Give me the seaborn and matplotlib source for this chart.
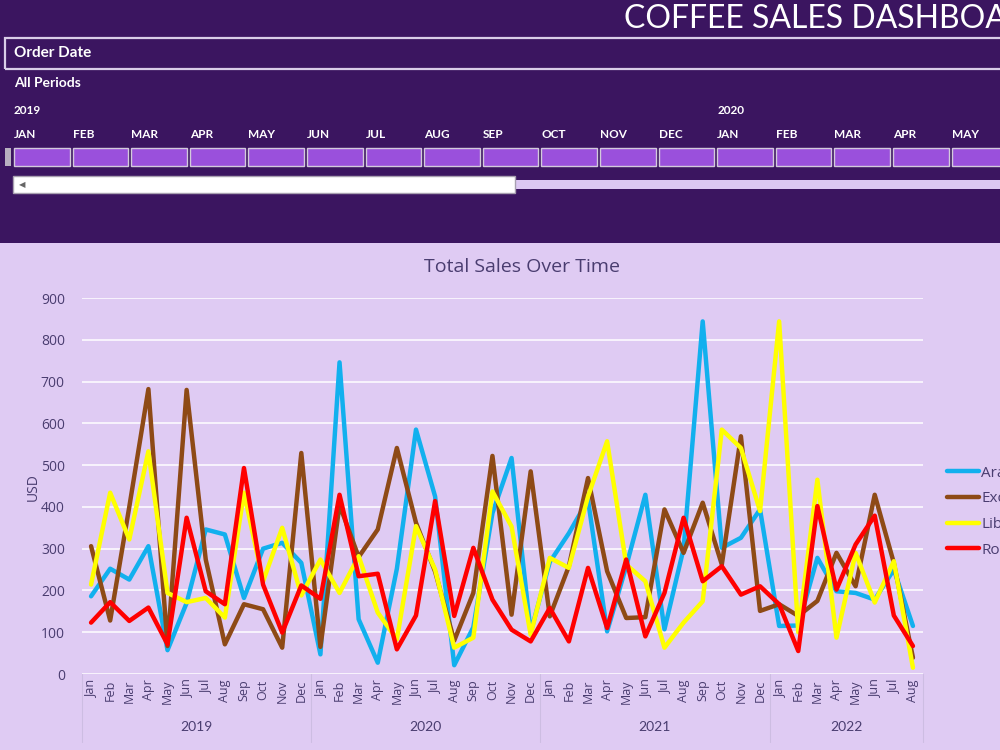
import numpy as np
import pandas as pd
import matplotlib
matplotlib.use('Agg')
import matplotlib.pyplot as plt
import seaborn as sns
from matplotlib.patches import Rectangle

# data: monthly sales, Jan 2019 .. Aug 2022
months = ['Jan', 'Feb', 'Mar', 'Apr', 'May', 'Jun',
          'Jul', 'Aug', 'Sep', 'Oct', 'Nov', 'Dec']
years = ['2019', '2020', '2021', '2022']
month_labels = (months * 4)[:44]

arabica = [186, 252, 226, 306, 57, 170, 346, 334, 182, 300, 314, 266,
           47, 746, 131, 27, 252, 585, 425, 21, 112, 385, 517, 100,
           268, 337, 417, 102, 258, 429, 107, 300, 844, 302, 326, 394,
           115, 116, 278, 198, 194, 178, 250, 115]
excelsa = [306, 128, 400, 682, 67, 680, 274, 71, 167, 155, 63, 529,
           65, 405, 280, 346, 541, 362, 245, 80, 194, 522, 142, 485,
           138, 258, 469, 246, 134, 136, 394, 290, 410, 262, 569, 151,
           167, 139, 175, 290, 210, 429, 266, 39]
liberica = [214, 434, 322, 533, 194, 172, 182, 135, 434, 222, 350, 188,
            274, 194, 282, 147, 83, 354, 250, 63, 87, 437, 353, 94,
            278, 254, 425, 557, 262, 222, 63, 123, 174, 585, 541, 390,
            844, 100, 465, 87, 290, 171, 270, 15]
robusta = [123, 172, 127, 159, 71, 374, 198, 167, 493, 214, 99, 212,
           180, 429, 234, 240, 59, 140, 414, 139, 302, 178, 106, 78,
           158, 78, 254, 110, 274, 90, 194, 374, 222, 258, 190, 210,
           167, 55, 402, 202, 310, 379, 140, 67]

beans = ['Arabica', 'Excelsa', 'Liberica', 'Robusta']
palette = {'Arabica': '#12B0EE', 'Excelsa': '#8E4A16',
           'Liberica': '#FFFF00', 'Robusta': '#FF0000'}

# slicer strip texts
slicer_months = ['JAN', 'FEB', 'MAR', 'APR', 'MAY', 'JUN', 'JUL', 'AUG', 'SEP',
                 'OCT', 'NOV', 'DEC', 'JAN', 'FEB', 'MAR', 'APR', 'MAY']

df = pd.DataFrame({
    'idx': np.tile(np.arange(44), 4),
    'bean': np.repeat(beans, 44),
    'sales': arabica + excelsa + liberica + robusta,
})

sns.set_style('white')
narrow = ['Liberation Sans Narrow', 'Lato', 'DejaVu Sans']
plt.rcParams['font.family'] = ['Open Sans', 'DejaVu Sans']

W, H = 1000, 750
def fx(x):
    return x / W
def fy(y):
    return 1 - y / H

bg = '#DFCBF3'
dark = '#3B1560'
txt = '#4A3D70'

fig = plt.figure(figsize=(10, 7.5), dpi=100)
fig.patch.set_facecolor(bg)

# dark header band
fig.add_artist(Rectangle((0, fy(243)), 1, 243 / H, transform=fig.transFigure,
                         facecolor=dark, edgecolor='none'))
fig.text(fx(624), fy(19), 'COFFEE SALES DASHBOARD', color='white',
         fontsize=23, ha='left', va='center', family=narrow)

# timeline slicer
fig.add_artist(Rectangle((fx(5), fy(69)), fx(1010), 31 / H, transform=fig.transFigure,
                         facecolor='none', edgecolor='#D9CDE8', lw=1.6))
fig.text(fx(14), fy(53), 'Order Date', color='white', fontsize=11,
         fontweight='bold', ha='left', va='center', family=narrow)
fig.text(fx(14), fy(83), 'All Periods', color='white', fontsize=10,
         fontweight='bold', ha='left', va='center', family=narrow)
fig.text(fx(14), fy(110), '2019', color='white', fontsize=8.5,
         fontweight='bold', ha='left', va='center', family=narrow)
fig.text(fx(14 + 12 * 58.6), fy(110), '2020', color='white', fontsize=8.5,
         fontweight='bold', ha='left', va='center', family=narrow)
for i, m in enumerate(slicer_months):
    x0 = 14 + i * 58.6
    fig.text(fx(x0), fy(135), m, color='white', fontsize=8.5,
             fontweight='bold', ha='left', va='center', family=narrow)
    fig.add_artist(Rectangle((fx(x0), fy(166)), 55.5 / W, 18 / H,
                             transform=fig.transFigure, facecolor='#9A50DC',
                             edgecolor='#D3CADC', lw=1))
fig.add_artist(Rectangle((fx(5), fy(166)), 6 / W, 18 / H, transform=fig.transFigure,
                         facecolor='#B8B0C0', edgecolor='none'))
fig.add_artist(Rectangle((fx(515), fy(189)), 490 / W, 9 / H, transform=fig.transFigure,
                         facecolor='#DCC8F2', edgecolor='none'))
fig.add_artist(Rectangle((fx(13), fy(193)), 502 / W, 17 / H, transform=fig.transFigure,
                         facecolor='white', edgecolor='#A8A0B0', lw=1))
fig.text(fx(22), fy(184.5), '\u25c0', color='#666666', fontsize=6,
         ha='center', va='center', family=['DejaVu Sans'])

# line chart
ax = fig.add_axes([fx(81.5), fy(674), 841 / W, (674 - 298) / H])
ax.set_facecolor('none')
sns.lineplot(data=df, x='idx', y='sales', hue='bean', hue_order=beans,
             palette=palette, linewidth=3.2, ax=ax)
ax.set_xlim(-0.5, 43.5)
ax.set_ylim(0, 900)
ax.set_yticks(range(0, 901, 100))
ax.yaxis.grid(True, color='white', lw=1.1)
ax.set_axisbelow(True)
for s in ax.spines.values():
    s.set_visible(False)
ax.set_xticks(range(44))
ax.set_xticklabels(month_labels, rotation=90, fontsize=9, color=txt)
ax.tick_params(axis='both', length=0, colors=txt)
ax.tick_params(axis='x', pad=4)
ax.tick_params(axis='y', labelsize=10, pad=12)
ax.set_xlabel('')
ax.set_ylabel('')

# year grouping under the month labels
tr = ax.get_xaxis_transform()
for b in [-0.5, 11.5, 23.5, 35.5, 43.5]:
    ax.plot([b, b], [0, -0.18], transform=tr, color='#CDBDE2', lw=0.8, clip_on=False)
for k, yr in enumerate(years):
    start = k * 12
    end = min(start + 11, 43)
    ax.text((start + end) / 2, -0.141, yr, transform=tr, ha='center', va='center',
            fontsize=10, color=txt, family=narrow)

fig.text(fx(33), fy(487), 'USD', rotation=90, ha='center', va='center',
         fontsize=10, color=txt)
fig.text(fx(522), fy(267), 'Total Sales Over Time', ha='center', va='center',
         fontsize=14, color=txt)

handles, labels = ax.get_legend_handles_labels()
ax.legend(handles, labels, loc='upper left', bbox_to_anchor=(fx(933), fy(452)),
          bbox_transform=fig.transFigure, frameon=False, fontsize=11,
          handlelength=2.1, handletextpad=0.15, labelspacing=0.7, labelcolor=txt)

fig.savefig('out.png', dpi=100, facecolor=bg)
